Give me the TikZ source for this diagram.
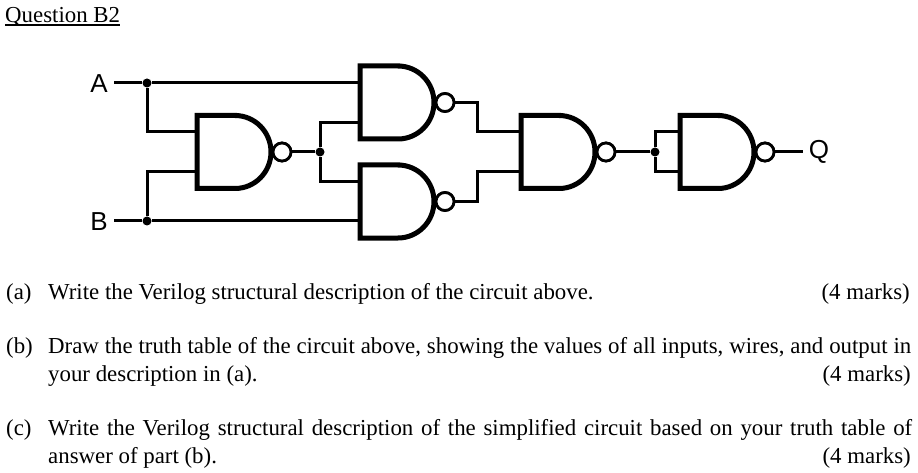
\documentclass[tikz,border=0pt]{standalone}
\usepackage{fontspec}
\setmainfont{Liberation Serif}
\newfontfamily\labelfont{Liberation Sans}
\newcommand{\fitline}[2]{\hbox to #1{\spaceskip=0.25em plus 1em minus 0.1em\relax #2}}
\tikzset{
  x=1pt,y=-1pt,
  gate/.style={line width=5pt,line join=miter},
  wire/.style={line width=3pt},
  inv/.style={circle,draw,line width=2.8pt,fill=white,minimum size=18pt,inner sep=0pt},
  junction/.style={circle,fill=black,minimum size=9pt,inner sep=0pt},
  signal/.style={font=\labelfont\fontsize{26}{26}\selectfont,inner sep=0pt},
  para/.style={anchor=base west,inner sep=0pt,font=\fontsize{22.85}{22.85}\selectfont},
  mark label/.style={anchor=base east,inner sep=0pt,font=\fontsize{22.85}{22.85}\selectfont},
}
% name, left x, centre y, input offset
\newcommand{\nandgate}[4]{%
  \draw[gate] (#2+40,#3-36.5) -- (#2,#3-36.5) -- (#2,#3+36.5) -- (#2+38,#3+36.5)
     .. controls (#2+58,#3+36.5) and (#2+74,#3+20) .. (#2+74,#3)
     .. controls (#2+74,#3-20) and (#2+58,#3-36.5) .. (#2+38,#3-36.5) -- cycle;
  \node[inv] (#1o) at (#2+85,#3) {};
  \coordinate (#1a) at (#2,#3-#4);
  \coordinate (#1b) at (#2,#3+#4);
}
\begin{document}
\begin{tikzpicture}
\useasboundingbox (0,0) rectangle (918,473);
\fill[white] (0,0) rectangle (918,473);

\nandgate{g1}{197}{152}{20}
\nandgate{g2}{360}{102.5}{20}
\nandgate{g3}{360}{201.5}{20}
\nandgate{g4}{521}{152}{20}
\nandgate{g5}{680}{152}{20}

\node[signal] (A) at (99,84) {A};
\node[signal] (B) at (99,222) {B};
\node[signal] (Q) at (819,152) {Q};

\node[junction] (ja) at (147,83) {};
\node[junction] (jb) at (147,221) {};
\node[junction] (jc) at (320,152) {};
\node[junction] (jd) at (655,152) {};

\coordinate (ain) at (114,83);
\coordinate (bin) at (114,221);
\coordinate (qout) at (803,152);

\begin{scope}[on background layer/.style={}]
\draw[wire] (ain) -- (ja) -- (ja -| g2a);
\draw[wire] (bin) -- (jb) -- (jb -| g3b);
\draw[wire] (ja) |- (g1a);
\draw[wire] (jb) |- (g1b);
\draw[wire] (g1o) -- (jc);
\draw[wire] (jc) |- (g2b);
\draw[wire] (jc) |- (g3a);
\draw[wire] (g2o) -| (477,132) -- (g4a);
\draw[wire] (g3o) -| (477,172) -- (g4b);
\draw[wire] (g4o) -- (jd);
\draw[wire] (jd) |- (g5a);
\draw[wire] (jd) |- (g5b);
\draw[wire] (g5o) -- (qout);
\end{scope}
\node[inv] at (g1o) {};\node[inv] at (g2o) {};\node[inv] at (g3o) {};\node[inv] at (g4o) {};\node[inv] at (g5o) {};

\node[para] (title) at (5,22.7) {Question B2};
\draw[line width=2pt] (5,25) -- (120,25);

\node[para] (a1) at (6,299) {(a)};
\node[para] (a2) at (48,299) {Write the Verilog structural description of the circuit above.};
\node[mark label] (am) at (910,299.5) {(4 marks)};

\node[para] (b1) at (6,353) {(b)};
\node[para] (b2) at (48,353) {\fitline{863pt}{Draw the truth table of the circuit above, showing the values of all inputs, wires, and output in}};
\node[para] (b3) at (48,381) {your description in (a).};
\node[mark label] (bm) at (911,381) {(4 marks)};

\node[para] (c1) at (6,435) {(c)};
\node[para] (c2) at (48,435) {\fitline{864pt}{Write the Verilog structural description of the simplified circuit based on your truth table of}};
\node[para] (c3) at (48,463) {answer of part (b).};
\node[mark label] (cm) at (911,463) {(4 marks)};
\end{tikzpicture}
\end{document}
